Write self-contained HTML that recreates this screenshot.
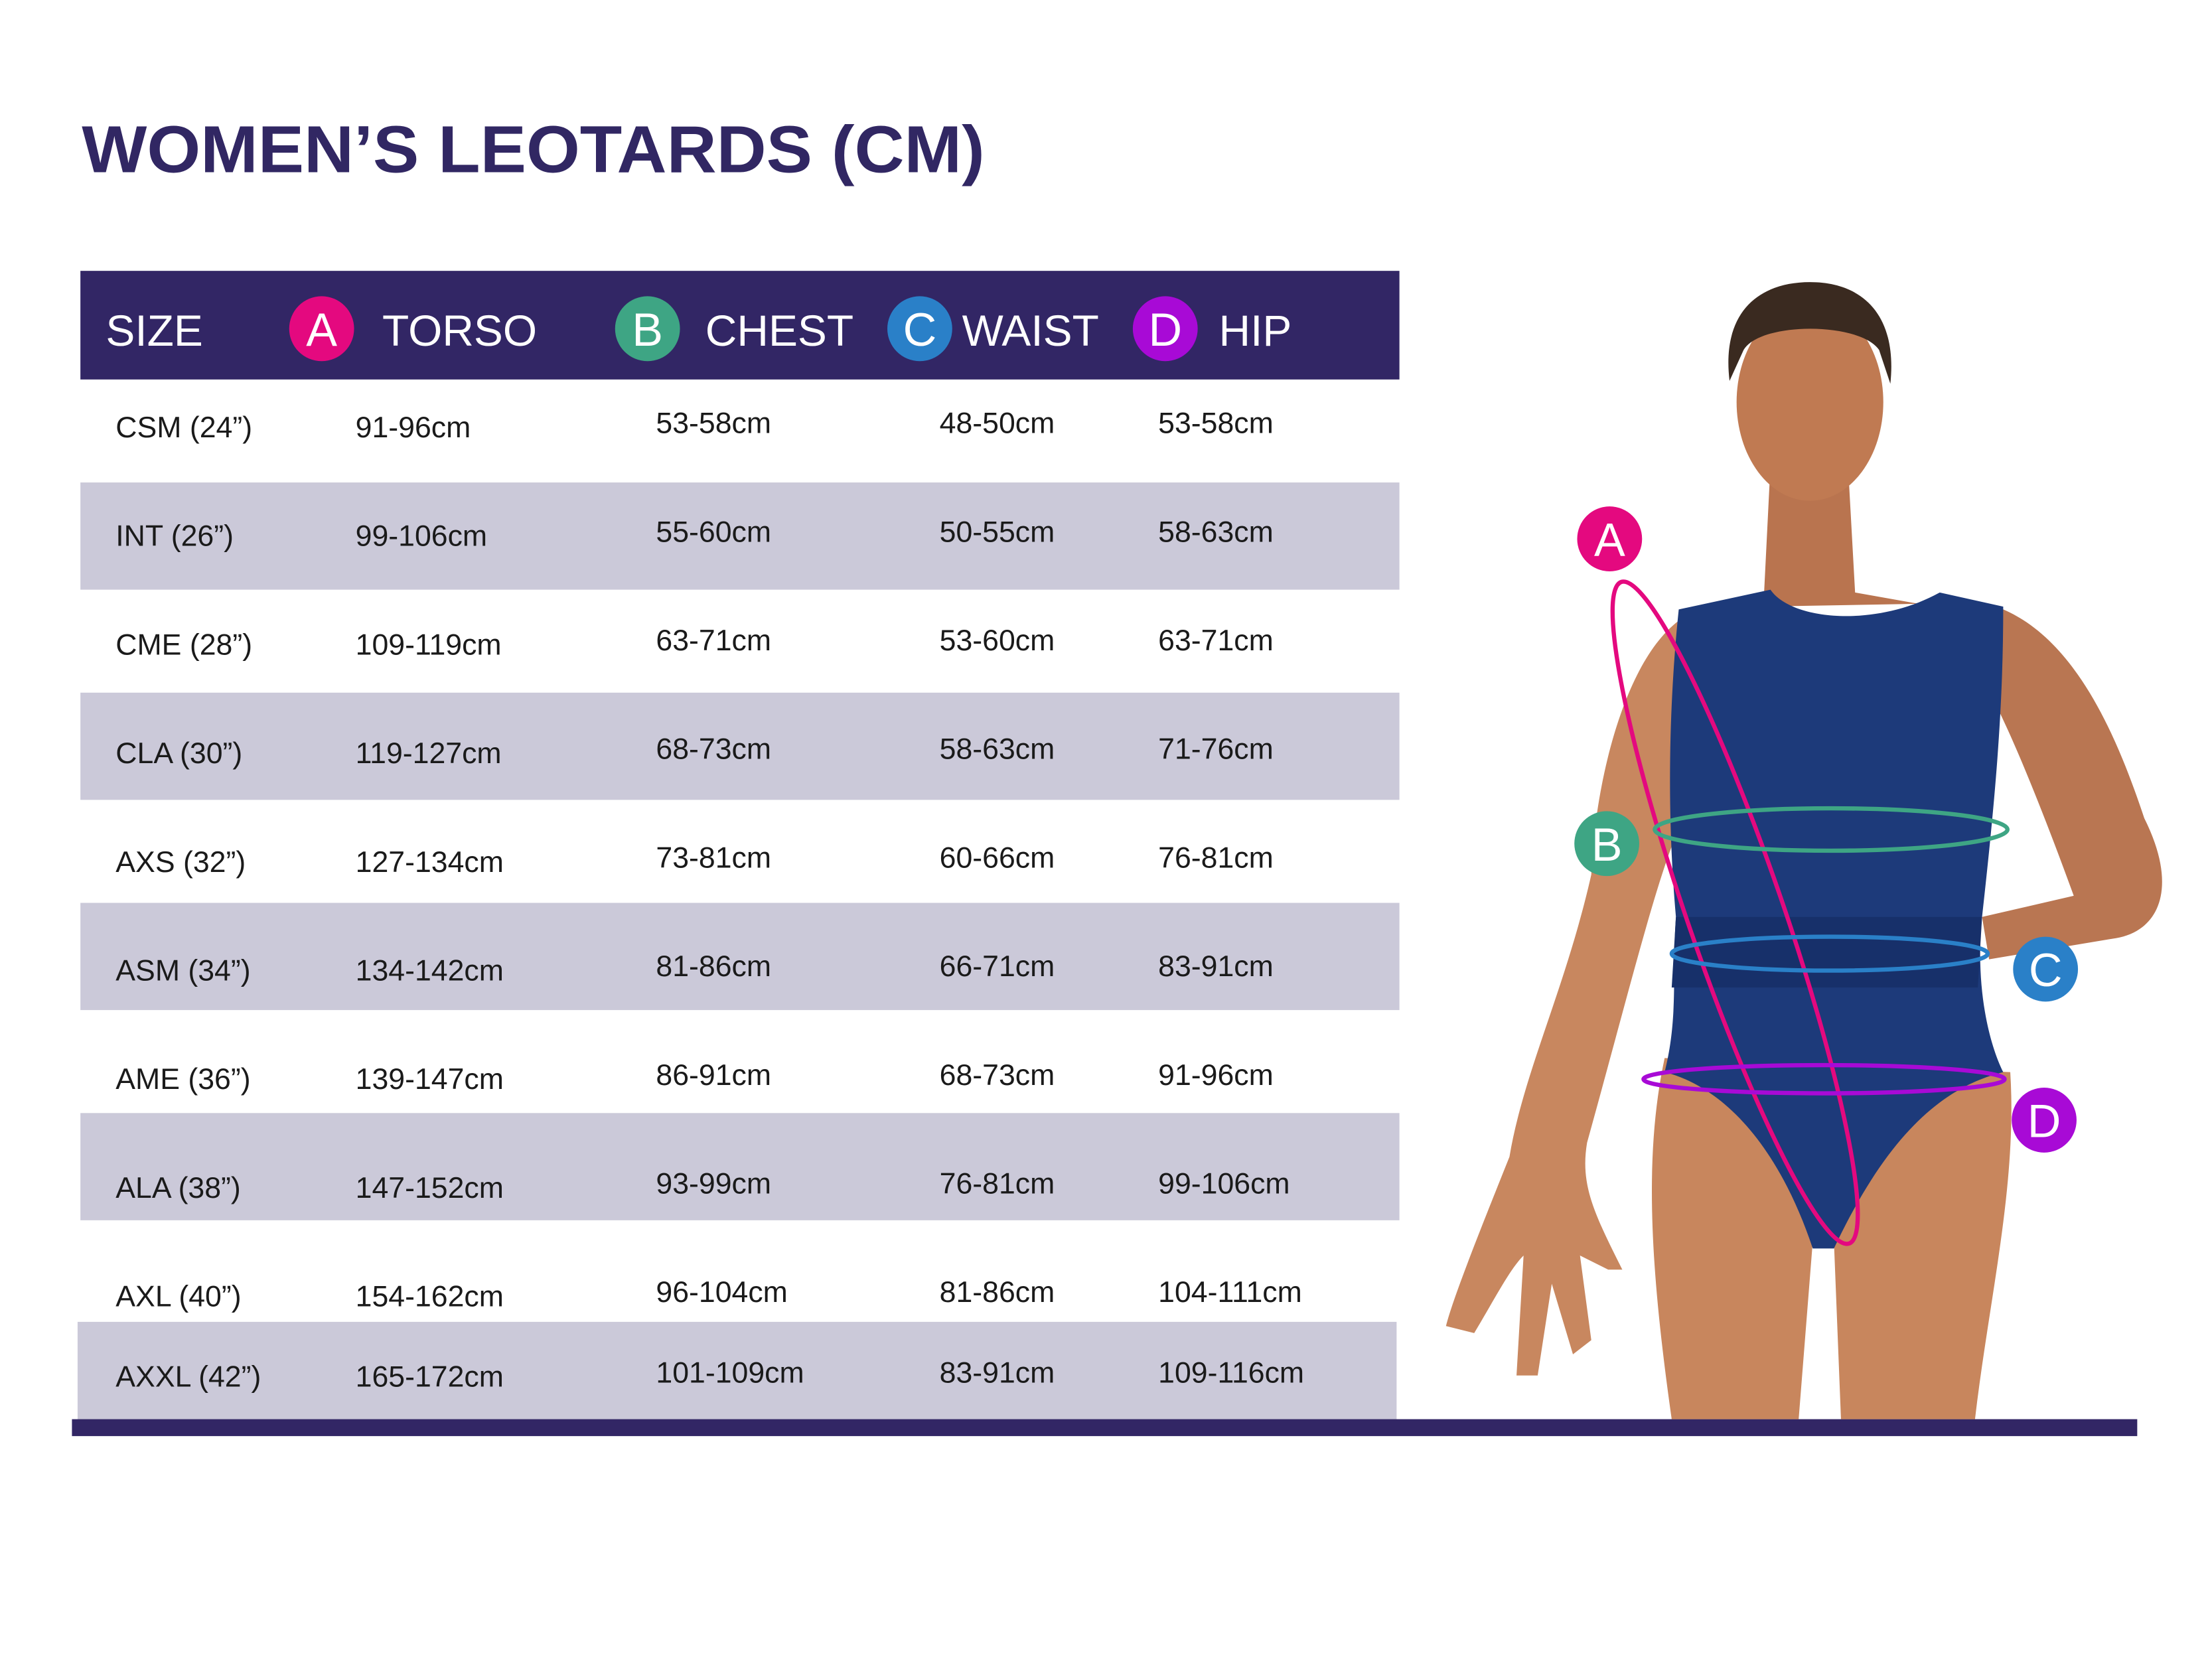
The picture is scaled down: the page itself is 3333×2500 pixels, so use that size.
<!DOCTYPE html>
<html><head><meta charset="utf-8"><style>html,body{margin:0;padding:0;background:#fff}svg{display:block}</style></head>
<body>
<svg width="3333" height="2500" viewBox="0 0 1568 1176" preserveAspectRatio="none" xmlns="http://www.w3.org/2000/svg" font-family="Liberation Sans, sans-serif">
<rect width="1568" height="1176" fill="#fff"/>
<text x="58" y="122" font-size="47" font-weight="bold" fill="#312763" textLength="640" lengthAdjust="spacingAndGlyphs">WOMEN’S LEOTARDS (CM)</text>
<rect x="57" y="192" width="935" height="77" fill="#322665"/>
<g fill="#fff" font-size="31">
<text x="75" y="245">SIZE</text>
<text x="271" y="245">TORSO</text>
<text x="500" y="245">CHEST</text>
<text x="682" y="245">WAIST</text>
<text x="864" y="245">HIP</text>
</g>
<circle cx="228" cy="233" r="23" fill="#e4097f"/>
<circle cx="459" cy="233" r="23" fill="#3ea584"/>
<circle cx="652" cy="233" r="23" fill="#2a80c8"/>
<circle cx="826" cy="233" r="23" fill="#a80ad6"/>
<g fill="#fff" font-size="33" text-anchor="middle">
<text x="228" y="245">A</text><text x="459" y="245">B</text><text x="652" y="245">C</text><text x="826" y="245">D</text>
</g>
<g fill="#cbc9d9">
<rect x="57" y="342" width="935" height="76"/>
<rect x="57" y="491" width="935" height="76"/>
<rect x="57" y="640" width="935" height="76"/>
<rect x="57" y="789" width="935" height="76"/>
<rect x="55" y="937" width="935" height="70"/>
</g>
<rect x="51" y="1006" width="1464" height="12" fill="#322665"/>
<g fill="#1a1a1a" font-size="21">
<text x="82" y="310">CSM (24”)</text><text x="252" y="310">91-96cm</text><text x="465" y="307">53-58cm</text><text x="666" y="307">48-50cm</text><text x="821" y="307">53-58cm</text>
<text x="82" y="387">INT (26”)</text><text x="252" y="387">99-106cm</text><text x="465" y="384">55-60cm</text><text x="666" y="384">50-55cm</text><text x="821" y="384">58-63cm</text>
<text x="82" y="464">CME (28”)</text><text x="252" y="464">109-119cm</text><text x="465" y="461">63-71cm</text><text x="666" y="461">53-60cm</text><text x="821" y="461">63-71cm</text>
<text x="82" y="541">CLA (30”)</text><text x="252" y="541">119-127cm</text><text x="465" y="538">68-73cm</text><text x="666" y="538">58-63cm</text><text x="821" y="538">71-76cm</text>
<text x="82" y="618">AXS (32”)</text><text x="252" y="618">127-134cm</text><text x="465" y="615">73-81cm</text><text x="666" y="615">60-66cm</text><text x="821" y="615">76-81cm</text>
<text x="82" y="695">ASM (34”)</text><text x="252" y="695">134-142cm</text><text x="465" y="692">81-86cm</text><text x="666" y="692">66-71cm</text><text x="821" y="692">83-91cm</text>
<text x="82" y="772">AME (36”)</text><text x="252" y="772">139-147cm</text><text x="465" y="769">86-91cm</text><text x="666" y="769">68-73cm</text><text x="821" y="769">91-96cm</text>
<text x="82" y="849">ALA (38”)</text><text x="252" y="849">147-152cm</text><text x="465" y="846">93-99cm</text><text x="666" y="846">76-81cm</text><text x="821" y="846">99-106cm</text>
<text x="82" y="926">AXL (40”)</text><text x="252" y="926">154-162cm</text><text x="465" y="923">96-104cm</text><text x="666" y="923">81-86cm</text><text x="821" y="923">104-111cm</text>
<text x="82" y="983">AXXL (42”)</text><text x="252" y="983">165-172cm</text><text x="465" y="980">101-109cm</text><text x="666" y="980">83-91cm</text><text x="821" y="980">109-116cm</text>
</g>
<g>
<path d="M1190 440 C1150 470 1130 560 1128 620 C1110 700 1080 760 1070 820 C1050 870 1030 920 1025 940 L1045 945 C1060 920 1070 900 1080 890 L1075 975 L1090 975 L1100 910 L1115 960 L1128 950 L1120 890 L1140 900 L1150 900 C1130 860 1120 840 1125 810 C1150 720 1170 640 1185 600 Z" fill="#c8875f"/>
<path d="M1415 430 C1470 450 1500 520 1520 580 C1545 630 1530 660 1500 665 L1410 680 L1405 650 L1470 635 C1450 580 1430 530 1415 500 Z" fill="#b97652"/>
<path d="M1180 750 C1165 820 1170 900 1185 1006 L1275 1006 L1285 880 L1300 880 L1305 1006 L1400 1006 C1410 920 1430 840 1425 760 Z" fill="#c8865d"/>
<path d="M1255 330 L1310 330 L1315 420 L1360 428 L1250 430 Z" fill="#b9744f"/>
<ellipse cx="1283" cy="285" rx="52" ry="70" fill="#c07a52"/>
<path d="M1226 270 C1220 220 1248 200 1283 200 C1322 200 1345 225 1340 272 L1332 248 C1318 228 1248 228 1236 248 Z" fill="#3a2a20"/>
<path d="M1190 432 L1255 418 C1270 440 1330 445 1375 420 L1420 430 C1420 500 1415 560 1405 650 C1400 700 1410 740 1420 760 C1380 770 1340 800 1300 885 L1285 885 C1260 810 1220 770 1180 760 C1190 720 1185 690 1188 650 C1180 560 1185 480 1190 432 Z" fill="#1d3a7a"/>
<path d="M1188 650 L1405 650 L1402 700 L1185 700 Z" fill="#17306a"/>
<ellipse cx="1230" cy="647" rx="34" ry="248" transform="rotate(-19 1230 647)" fill="none" stroke="#e4097f" stroke-width="3"/>
<ellipse cx="1298" cy="588" rx="125" ry="15" fill="none" stroke="#3ea584" stroke-width="3"/>
<ellipse cx="1297" cy="676" rx="112" ry="12" fill="none" stroke="#2a80c8" stroke-width="3"/>
<ellipse cx="1293" cy="765" rx="128" ry="10" fill="none" stroke="#a80ad6" stroke-width="3"/>
</g>
<circle cx="1141" cy="382" r="23" fill="#e4097f"/>
<circle cx="1139" cy="598" r="23" fill="#3ea584"/>
<circle cx="1450" cy="687" r="23" fill="#2a80c8"/>
<circle cx="1449" cy="794" r="23" fill="#a80ad6"/>
<g fill="#fff" font-size="33" text-anchor="middle">
<text x="1141" y="394">A</text><text x="1139" y="610">B</text><text x="1450" y="699">C</text><text x="1449" y="806">D</text>
</g>
</svg>
</body></html>
